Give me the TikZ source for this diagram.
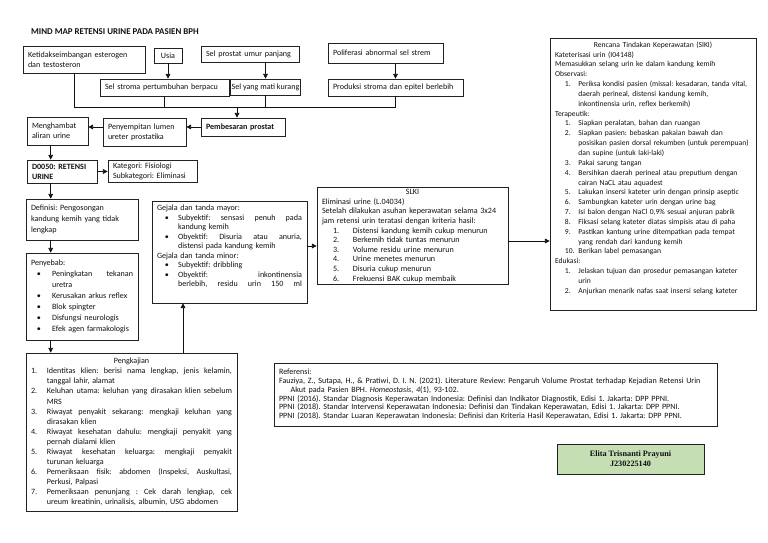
\documentclass[tikz,border=0pt]{standalone}
\usepackage{fontspec}
\setmainfont{Carlito}
\newfontfamily\namefont{Liberation Serif}
\usetikzlibrary{arrows.meta,positioning}
\definecolor{ink}{HTML}{111111}
\definecolor{edge}{HTML}{222222}
\definecolor{namefill}{HTML}{C6DEB4}
\frenchspacing
\hyphenpenalty=10000
\exhyphenpenalty=10000

\newcommand{\boxfont}{\fontsize{6.9pt}{8.4pt}\selectfont}
\newlength\itemlead
\newlength\itemhang
% numbered / bulleted line with hanging indent (break inside with \newline)
\newcommand{\nitem}[2]{\par\hangindent=\itemhang\hangafter=1\noindent
  \makebox[\itemhang][l]{\hspace*{\itemlead}#1}#2}
\newcommand{\bitem}[1]{\nitem{\textbullet}{#1}}
% justified line: word spaces stretch to the right edge
\newcommand{\jline}[1]{{\spaceskip=0.22em plus 1fill\relax#1}}
\newcommand{\padbottom}[1]{\par\rule{0pt}{#1}}

\begin{document}
\begin{tikzpicture}[x=1cm,y=1cm,
  text=ink,
  flow/.style={-{Triangle[length=1.4mm,width=1.4mm]}, line width=0.5pt, draw=ink},
  link/.style={line width=0.5pt, draw=ink},
  box/.style={draw=edge, line width=0.6pt, align=left, font=\boxfont,
              inner xsep=0.15cm, inner ysep=0.05cm},
  indents/.style 2 args={execute at begin node={\setlength\itemlead{#1}\setlength\itemhang{#2}}}]

\useasboundingbox (0,0) rectangle (23.04,16.29);

\node[anchor=west, font=\fontsize{7.6pt}{9pt}\selectfont\bfseries] (title) at (0.81,15.33)
  {MIND MAP RETENSI URINE PADA PASIEN BPH};

% ------------------------------------------------------------ causes (top)
\node[box, text width=3.36cm, minimum height=0.81cm] (ketid) at (2.52,14.505)
  {Ketidakseimbangan esterogen\\dan testosteron};
\node[box, align=center, minimum width=0.84cm, minimum height=0.45cm] (usia) at (5.04,14.625) {Usia};
\node[box, text width=2.64cm, minimum height=0.48cm] (selprostat) at (7.50,14.67)
  {Sel prostat umur panjang};
\node[box, text width=3.15cm, minimum height=0.60cm] (poli) at (11.565,14.70)
  {Poliferasi abnormal sel strem};

\node[box, text width=3.57cm, minimum height=0.51cm] (stroma) at (4.935,13.665)
  {Sel stroma pertumbuhan berpacu};
\node[box, align=center, inner xsep=1pt, minimum width=1.71cm, minimum height=0.48cm] (mati)
  at (7.965,13.68) {Sel yang mati kurang};
\node[box, text width=3.75cm, minimum height=0.51cm] (produksi) at (11.865,13.665)
  {Produksi stroma dan epitel berlebih};

\draw[flow] (usia.south) -- (usia.south |- stroma.north);
\draw[flow] (selprostat.south -| mati.north) -- (mati.north);
\draw[flow] (poli.south -| produksi.north) -- (produksi.north);

% joining line into the enlargement
\coordinate (join) at (7.11,13.08);
\draw[link] ([xshift=-3mm]ketid.south) |- (produksi.south |- join) -- (produksi.south);
\draw[link] (stroma.south) -- (stroma.south |- join);
\draw[link] (mati.south) -- (mati.south |- join);

\node[box, text width=2.22cm, minimum height=0.54cm, font=\boxfont\bfseries] (pembesaran)
  at (7.29,12.48) {Pembesaran prostat};
\node[box, text width=2.19cm, minimum height=0.84cm] (penyempitan) at (4.335,12.33)
  {Penyempitan lumen\\ureter prostatika};
\node[box, text width=1.53cm, minimum height=0.84cm] (menghambat) at (1.725,12.36)
  {Menghambat\\aliran urine};

\draw[flow] (join) -- (join |- pembesaran.north);
\draw[flow] (pembesaran.west) -- (pembesaran.west -| penyempitan.east);
\draw[flow] (penyempitan.west |- pembesaran.west) -- (menghambat.east |- pembesaran.west);

% ------------------------------------------------------------ diagnosis column
\coordinate (spine) at (1.52,0);
\node[box, text width=1.80cm, minimum height=0.69cm, font=\boxfont\bfseries] (diag)
  at (1.86,11.145) {D0050: RETENSI\\URINE};
\node[box, text width=2.37cm, minimum height=0.66cm] (kategori) at (4.575,11.16)
  {Kategori: Fisiologi\\Subkategori: Eliminasi};
\node[box, text width=3.06cm, minimum height=1.23cm,
      font=\fontsize{6.9pt}{9.3pt}\selectfont] (definisi) at (2.46,9.705)
  {Definisi: Pengosongan\\kandung kemih yang tidak\\lengkap};
\node[box, indents={5pt}{18pt}, text width=3.06cm, minimum height=2.61cm,
      font=\fontsize{6.9pt}{9.3pt}\selectfont] (penyebab) at (2.46,7.395)
  {Penyebab:
   \bitem{\jline{Peningkatan tekanan}\newline uretra}
   \bitem{Kerusakan arkus reflex}
   \bitem{Blok spingter}
   \bitem{Disfungsi neurologis}
   \bitem{Efek agen farmakologis}\par};

\draw[flow] (menghambat.south -| spine) -- (diag.north -| spine);
\draw[flow] (diag.east) -- (diag.east -| kategori.west);
\draw[flow] (diag.south -| spine) -- (definisi.north -| spine);
\draw[flow] (definisi.south -| spine) -- (penyebab.north -| spine);

% ------------------------------------------------------------ signs, outcomes
\node[box, indents={6.8pt}{18pt}, text width=4.35cm, minimum height=3.06cm,
      font=\fontsize{6.9pt}{8.1pt}\selectfont] (gejala) at (6.885,8.73)
  {Gejala dan tanda mayor:
   \bitem{\jline{Subyektif: sensasi penuh pada}\newline kandung kemih}
   \bitem{\jline{Obyektif: Disuria atau anuria,}\newline distensi pada kandung kemih}
   \par Gejala dan tanda minor:
   \bitem{Subyektif: dribbling}
   \bitem{\jline{Obyektif: inkontinensia}\newline \jline{berlebih, residu urin 150 ml}}
   \padbottom{8.5pt}};

\node[box, indents={9.4pt}{26.4pt}, text width=5.43cm, minimum height=2.46cm,
      font=\fontsize{6.9pt}{8.2pt}\selectfont] (slki) at (12.375,9.21)
  {{\centering SLKI\par}
   Eliminasi urine (L.04034)\par
   Setelah dilakukan asuhan keperawatan selama 3x24\par
   jam retensi urin teratasi dengan kriteria hasil:
   \nitem{1.}{Distensi kandung kemih cukup menurun}
   \nitem{2.}{Berkemih tidak tuntas menurun}
   \nitem{3.}{Volume residu urine menurun}
   \nitem{4.}{Urine menetes menurun}
   \nitem{5.}{Disuria cukup menurun}
   \nitem{6.}{Frekuensi BAK cukup membaik}\par};

\node[box, indents={8.5pt}{20pt}, text width=5.88cm, minimum height=8.16cm,
      font=\fontsize{6.5pt}{8.4pt}\selectfont] (siki) at (19.59,11.07)
  {{\centering Rencana Tindakan Keperawatan (SIKI)\par}
   Kateterisasi urin (I04148)\par
   Memasukkan selang urin ke dalam kandung kemih\par
   Observasi:
   \nitem{1.}{Periksa kondisi pasien (missal: kesadaran, tanda vital,\newline
     daerah perineal, distensi kandung kemih,\newline
     inkontinensia urin, reflex berkemih)}
   \par Terapeutik:
   \nitem{1.}{Siapkan peralatan, bahan dan ruangan}
   \nitem{2.}{Siapkan pasien: bebaskan pakaian bawah dan\newline
     posisikan pasien dorsal rekumben (untuk perempuan)\newline
     dan supine (untuk laki-laki)}
   \nitem{3.}{Pakai sarung tangan}
   \nitem{4.}{Bersihkan daerah perineal atau preputium dengan\newline
     cairan NaCL atau aquadest}
   \nitem{5.}{Lakukan insersi kateter urin dengan prinsip aseptic}
   \nitem{6.}{Sambungkan kateter urin dengan urine bag}
   \nitem{7.}{Isi balon dengan NaCl 0,9\% sesuai anjuran pabrik}
   \nitem{8.}{Fiksasi selang kateter diatas simpisis atau di paha}
   \nitem{9.}{Pastikan kantung urine ditempatkan pada tempat\newline
     yang rendah dari kandung kemih}
   \nitem{10.}{Berikan label pemasangan}
   \par Edukasi:
   \nitem{1.}{Jelaskan tujuan dan prosedur pemasangan kateter\newline urin}
   \nitem{2.}{Anjurkan menarik nafas saat insersi selang kateter}
   \padbottom{9pt}};

\draw[flow] ([yshift=1.8mm]gejala.east) -- ([yshift=1.8mm]gejala.east -| slki.west);
\draw[flow] ([yshift=-1.5mm]slki.east) -- ([yshift=-1.5mm]slki.east -| siki.west);

% ------------------------------------------------------------ assessment
\coordinate (rise) at (5.49,0);
\node[box, indents={0pt}{13.6pt}, text width=6.03cm, minimum height=4.74cm,
      font=\fontsize{6.9pt}{8.6pt}\selectfont] (pengkajian) at (3.945,3.33)
  {{\centering Pengkajian\par}
   \nitem{1.}{\jline{Identitas klien: berisi nama lengkap, jenis kelamin,}\newline
     tanggal lahir, alamat}
   \nitem{2.}{\jline{Keluhan utama: keluhan yang dirasakan klien sebelum}\newline MRS}
   \nitem{3.}{\jline{Riwayat penyakit sekarang: mengkaji keluhan yang}\newline
     dirasakan klien}
   \nitem{4.}{\jline{Riwayat kesehatan dahulu: mengkaji penyakit yang}\newline
     pernah dialami klien}
   \nitem{5.}{\jline{Riwayat kesehatan keluarga: mengkaji penyakit}\newline
     turunan keluarga}
   \nitem{6.}{\jline{Pemeriksaan fisik: abdomen (Inspeksi, Auskultasi,}\newline
     Perkusi, Palpasi}
   \nitem{7.}{\jline{Pemeriksaan penunjang : Cek darah lengkap, cek}\newline
     ureum kreatinin, urinalisis, albumin, USG abdomen}\par};

\draw[flow] (penyebab.south -| spine) -- (pengkajian.north -| spine);
\draw[flow] (pengkajian.north -| rise) -- (gejala.south -| rise);

% ------------------------------------------------------------ references, name
\node[box, text width=12.99cm, minimum height=1.89cm,
      font=\fontsize{6.9pt}{7.5pt}\selectfont] (referensi) at (14.865,4.455)
  {Referensi:\\
   Fauziya, Z., Sutapa, H., \& Pratiwi, D. I. N. (2021). Literature Review: Pengaruh Volume Prostat terhadap Kejadian Retensi Urin\\
   \hspace*{10pt}Akut pada Pasien BPH. \textit{Homeostasis}, \textit{4}(1), 93-102.\\
   PPNI (2016). Standar Diagnosis Keperawatan Indonesia: Definisi dan Indikator Diagnostik, Edisi 1. Jakarta: DPP PPNI.\\
   PPNI (2018). Standar Intervensi Keperawatan Indonesia: Definisi dan Tindakan Keperawatan, Edisi 1. Jakarta: DPP PPNI.\\
   PPNI (2018). Standar Luaran Keperawatan Indonesia: Definisi dan Kriteria Hasil Keperawatan, Edisi 1. Jakarta: DPP PPNI.};

\node[draw=edge, line width=0.8pt, fill=namefill, align=center,
      minimum width=4.41cm, minimum height=0.90cm,
      font=\namefont\fontsize{7pt}{8.6pt}\selectfont\bfseries] (nama) at (18.915,2.52)
  {Elita Trisnanti Prayuni\\J230225140};
\end{tikzpicture}
\end{document}
